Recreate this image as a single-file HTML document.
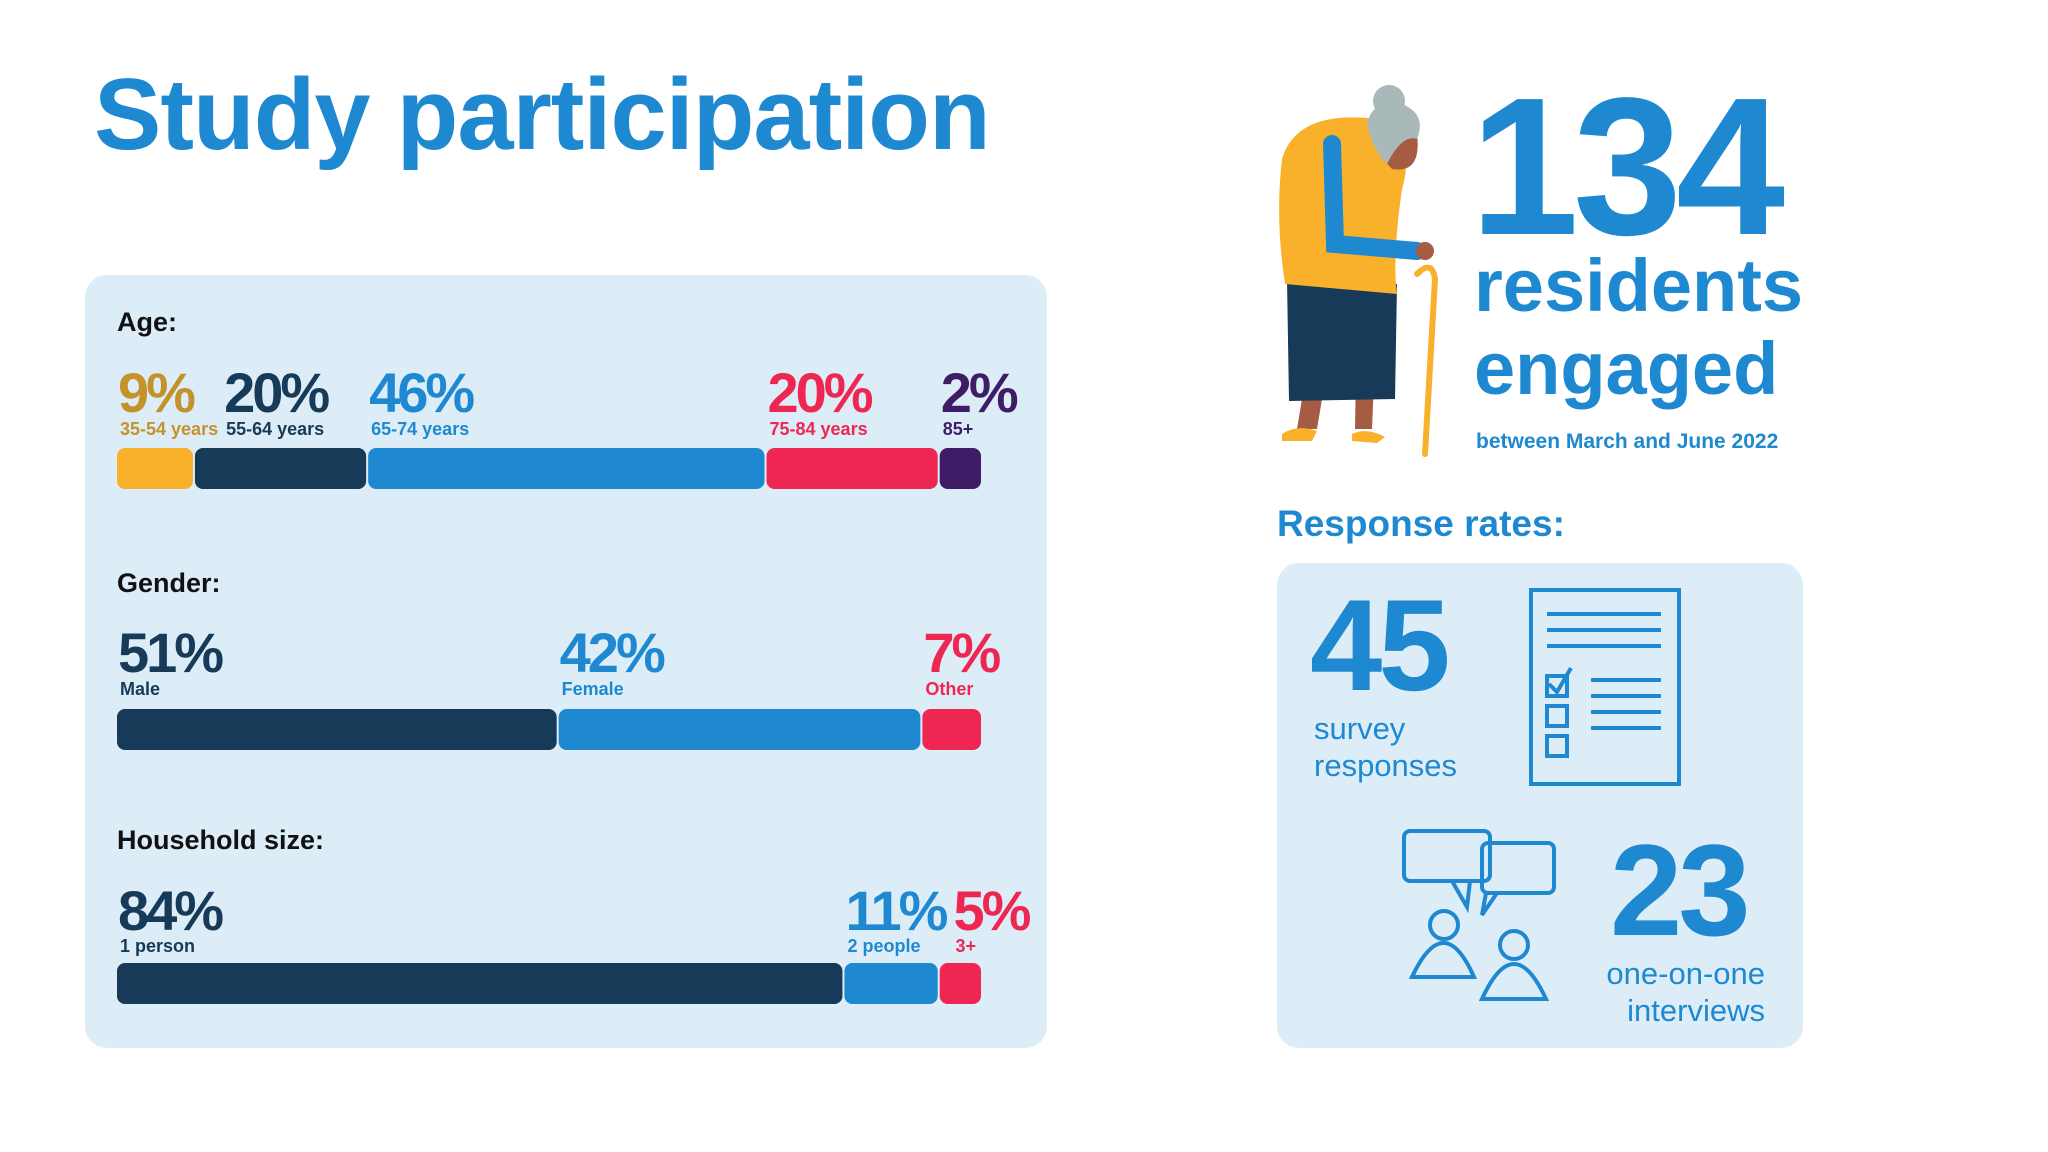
<!DOCTYPE html>
<html><head><meta charset="utf-8"><style>
body{margin:0;width:2048px;height:1152px;background:#fff;position:relative;overflow:hidden;font-family:"Liberation Sans",sans-serif}
.a{position:absolute;white-space:nowrap}
.b{font-weight:bold}
</style></head><body>
<div class="a b" style="left:94px;top:58px;font-size:101px;color:#1e88d0;letter-spacing:-1px">Study participation</div>
<div class="a" style="left:85px;top:275px;width:962px;height:773px;background:#ddedf8;border-radius:22px"></div>
<svg class="a" style="left:0;top:0" width="1100" height="1100" id="ch"></svg>

<svg class="a" style="left:1277px;top:79px" width="170" height="380" viewBox="0 0 170 380">
<path d="M20 350 L40 230 L60 230 L40 350Z" fill="#a65c43"/><path d="M80 230 L100 230 L95 350 L78 350Z" fill="#a65c43"/>
<path d="M5 355 Q20 345 40 352 L35 362 L5 362Z" fill="#f9b02a"/><path d="M75 355 Q90 348 108 358 L100 364 L75 362Z" fill="#f9b02a"/>
<path d="M10 200 L120 205 L118 320 L12 322Z" fill="#163a57"/>
<path d="M5 80 Q20 30 100 40 Q140 60 125 110 Q115 180 120 215 L8 205 Q-2 140 5 80Z" fill="#f9b02a"/>
<path d="M95 35 Q130 25 140 55 Q145 95 115 90 Q95 70 95 35Z" fill="#a65c43"/>
<circle cx="112" cy="22" r="16" fill="#a9b8b8"/><path d="M90 45 Q95 20 125 25 Q150 35 140 60 Q125 55 110 85 Q95 70 90 45Z" fill="#a9b8b8"/>
<path d="M55 65 L58 165 L140 172" stroke="#1e88d0" stroke-width="18" fill="none" stroke-linecap="round"/>
<circle cx="148" cy="172" r="9" fill="#a65c43"/>
<path d="M140 195 Q155 180 158 200 L148 375" stroke="#f9b02a" stroke-width="6" fill="none" stroke-linecap="round"/>
</svg>
<div class="a b" style="left:1470px;top:52px;font-size:196px;line-height:230px;color:#1e88d0;letter-spacing:-6px">134</div>
<div class="a b" style="left:1474px;top:243px;font-size:74px;color:#1e88d0">residents</div>
<div class="a b" style="left:1474px;top:326px;font-size:74px;color:#1e88d0">engaged</div>
<div class="a b" style="left:1476px;top:430px;font-size:21px;color:#1e88d0">between March and June 2022</div>
<div class="a b" style="left:1277px;top:503px;font-size:37px;color:#1e88d0">Response rates:</div>
<div class="a" style="left:1277px;top:563px;width:526px;height:485px;background:#ddedf8;border-radius:22px"></div>
<div class="a b" style="left:1310px;top:580px;font-size:130px;line-height:130px;color:#1e88d0;letter-spacing:-4px">45</div>
<div class="a" style="left:1314px;top:710px;font-size:31px;line-height:37px;color:#1e88d0">survey<br>responses</div>
<svg class="a" style="left:1529px;top:588px" width="152" height="198" fill="none" stroke="#1e88d0" stroke-width="4">
<rect x="2" y="2" width="148" height="194"/><path d="M18 26H132M18 42H132M18 58H132M62 92H132M62 108H132M62 124H132M62 140H132"/>
<rect x="18" y="88" width="20" height="20"/><rect x="18" y="118" width="20" height="20"/><rect x="18" y="148" width="20" height="20"/><path d="M20 96L28 104L42 80"/>
</svg>
<svg class="a" style="left:1402px;top:829px" width="156" height="180" fill="none" stroke="#1e88d0" stroke-width="4">
<rect x="2" y="2" width="86" height="50" rx="6"/><path d="M50 52L65 78L68 52"/><rect x="80" y="14" width="72" height="50" rx="6"/><path d="M95 64L80 86L84 64"/>
<circle cx="42" cy="96" r="14"/><path d="M10 148Q42 80 72 148Z"/><circle cx="112" cy="116" r="14"/><path d="M80 170Q112 100 144 170Z"/>
</svg>
<div class="a b" style="left:1610px;top:825px;font-size:130px;line-height:130px;color:#1e88d0;letter-spacing:-4px">23</div>
<div class="a" style="left:1500px;width:265px;text-align:right;top:955px;font-size:31px;line-height:37px;color:#1e88d0">one-on-one<br>interviews</div>

<script>
const ageCats=["35-54 years","55-64 years","65-74 years","75-84 years","85+"];
const ageVals=[9,20,46,20,2];
const genderCats=["Male","Female","Other"];
const genderVals=[51,42,7];
const houseCats=["1 person","2 people","3+"];
const houseVals=[84,11,5];
const groups=[
 {name:"age",title:"Age:",cats:ageCats,vals:ageVals,colors:["#f9b02a","#163a57","#1e88d0","#ee2752","#3f1d66"],lab:["#c4922a","#163a57","#1e88d0","#ee2752","#3f1d66"],ty:319,py:412,sy:430,by:448},
 {name:"gender",title:"Gender:",cats:genderCats,vals:genderVals,colors:["#163a57","#1e88d0","#ee2752"],lab:["#163a57","#1e88d0","#ee2752"],ty:580,py:672,sy:690,by:709},
 {name:"household",title:"Household size:",cats:houseCats,vals:houseVals,colors:["#163a57","#1e88d0","#ee2752"],lab:["#163a57","#1e88d0","#ee2752"],ty:837,py:930,sy:947,by:963}
];
const X0=116,W=866,BH=41;
const svg=document.getElementById('ch');
const NS="http://www.w3.org/2000/svg";
function mk(t,a){const e=document.createElementNS(NS,t);for(const k in a)e.setAttribute(k,a[k]);svg.appendChild(e);return e;}
groups.forEach(g=>{
 const tot=Math.max(100,g.vals.reduce((a,b)=>a+b,0));
 const xs=v=>X0+v/tot*W;
 const t=mk('text',{x:117,y:g.ty+12,'font-size':27,'font-weight':'bold',fill:'#111'});t.textContent=g.title;
 
 
 let c=0,prevEnd=0;
 g.vals.forEach((v,i)=>{
  const last=i==g.vals.length-1;
  const x=xs(c),w=(last?X0+W:xs(c+v))-x;
  const r=mk('rect',{x:x+1,y:g.by,width:Math.max(w-2,2),height:BH,rx:8,fill:g.colors[i]});
  
  
  let lx=Math.max(x+2,prevEnd+8);
  const p=mk('text',{x:lx,y:g.py,'font-size':56,'font-weight':'bold',fill:g.lab[i],'letter-spacing':-3});p.textContent=v+'%';
  
  
  const s=mk('text',{x:lx+2,y:g.sy+5,'font-size':18,'font-weight':'bold',fill:g.lab[i]});s.textContent=g.cats[i];
  
  
  prevEnd=lx+Math.max(p.getComputedTextLength(),s.getComputedTextLength());
  c+=v;
 });
});
</script>
</body></html>
